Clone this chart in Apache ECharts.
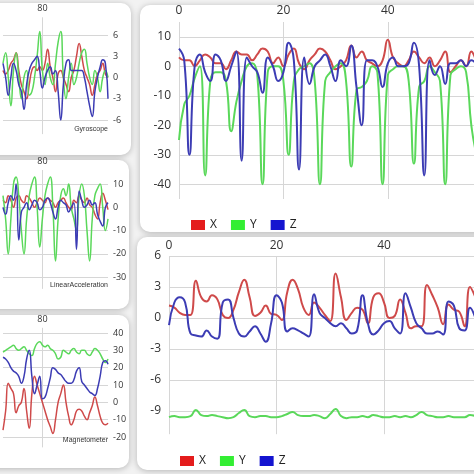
<!DOCTYPE html>
<html>
<head>
<meta charset="utf-8">
<script src="https://cdn.jsdelivr.net/npm/echarts@6/dist/echarts.min.js"></script>
<style>html,body{margin:0;padding:0;background:#f2f2f2;}#chart{width:474px;height:474px;}</style>
</head>
<body>
<div id="chart"></div>
<script>
// small panels on the left start at sample 65, big ones on the right at 0
var gyroX = [1,0.5,1,2,2.5,3.5,1,-1,-2,-3,-1,1,1.5,1,1.5,1,2,4,1.5,0,-2,0.5,1,0,-1,-2,0,1,3,4.8,3,1,0,-1,-2.5,-1,0.5,1,2,0.5,0];
var gyroY = [2,3.5,0,-4,1,3.5,0,-3,0,1,-2.5,-2,0,3,6.5,1,-1,2,0,-1,2,5,6.5,0,-3,0,2,-1,0,2,3.5,4,2,0,-1,1,0,-2,0,1,0];
var gyroZ = [2,0,-2.5,0,2,1,-1,-2,-4.5,-1,1,2,2.5,3,1,-1.5,0,1,1.5,0.5,1,-2,-6,-1,2,2.5,1,1,1,1,1,0,-2,-4,-5.5,-2,0,1.5,2.5,2,-3];
var linX = [3,2,5,3,0,4,5,3,2,5,4,2,0,2,4,3,2,4,3,2,0,2,3,4,2,0,-1,3,2,5,3,2,4,1,0,-3,-5,2,6,3,-1];
var linY = [5,-5,-20,-5,10,13,5,-10,-20,-5,5,10,13,0,-17,-5,5,10,13,0,-23,-5,5,8,5,10,0,-5,-10,5,10,5,-10,-23,-5,5,8,10,0,-10,-5];
var linZ = [0,-3,2,5,3,10,-14,-2,0,2,-1,1,3,2,-1,0,3,4,2,-2,-5,0,3,2,1,-2,0,2,-18,7,3,0,1,3,1,2,-3,-6,-8,0,2];
var magX = [-16,-5,11,8,5,-6,-2,0,8,-5,-15,5,15,10,5,0,-5,-10,-14,-18,-10,0,5,10,0,-8,-13,-10,-5,-4,-5,-8,-10,-6,-2,3,-2,-8,-12,-13,-12];
var magY = [29,30,31,32,33,31,30,31,32,30,28,27,31,34,35,33,32,33,31,30,28,25,26,30,29,28,30,31,29,28,30,30,28,27,29,31,30,28,25,23,25];
var magZ = [26,25,23,20,18,17,15,11,15,25,30,15,5,10,15,2,3,8,14,20,19,17,16,14,12,11,11,13,18,20,12,10,8,6,5,4,8,15,23,24,22];

var accX = [3,2,2,0,2,4,3,1,1,-1,2,5,4,4,2,4,6,5,1,3,0,4,6,1,-1,2,4,6,5,2,-1,0,2,7,3,5,2,1,0,2,9,3,1,0,2,5,3,1,3,0,2,5,-2,0,2,0,5,2,0];
var accY = [-25,-13,-10,-4,0,-37,-5,-2,-2,-5,-22,-12,-5,0,1,-3,-40,-2,0,0,-5,-30,-5,-1,0,1,-5,-40,-5,-2,0,1,-5,-34,-8,-7,-5,0,-2,-40,-3,-1,0,0,-5,-33,-7,-5,0,-2,-5,-40,-3,-1,0,-2,-20,-30,-35];
var accZ = [6,2,-30,0,4,-2,-5,4,2,-5,0,5,-32,3,0,-2,-9,3,0,-5,-2,8,2,-35,3,-6,0,2,4,0,-5,2,0,7,-7,-20,2,2,0,-7,1,3,0,0,1,8,0,-37,2,-3,0,-6,1,1,2,0,2,1,0];
var gravX = [1.2,1,0.5,0.3,0.3,3.6,2,1.6,2.2,1.8,0.3,0,0.8,2.5,3.7,2,0.2,0.5,1.2,0.4,0.3,-0.2,2.5,3.7,2.8,1,0.3,1.5,1,0.3,-0.3,4.3,2,-0.2,0.5,1,0.8,-0.5,2,2.4,1.5,0,0.2,1.8,0.5,-1,-0.8,-0.8,3.2,2.2,1,-0.6,1.3,0.8,0.6,-0.8,3,2];
var gravY = [-9.6,-9.5,-9.6,-9.6,-9.5,-8.9,-9.4,-9.5,-9.4,-9.5,-9.6,-9.7,-9.6,-9.2,-8.9,-9.5,-9.6,-9.5,-9.5,-9.6,-9.6,-9.5,-9.3,-9.1,-9.4,-9.5,-9.5,-9.4,-9.5,-9.7,-9.3,-8.8,-9.5,-9.7,-9.6,-9.6,-9.5,-9.6,-9.4,-9.5,-9.6,-9.6,-9.5,-9.6,-9.5,-9.6,-9.4,-9.1,-9.4,-9.5,-9.6,-9.6,-9.5,-9.6,-9.6,-9.6,-9.4,-9.5];
var gravZ = [-0.7,1.5,2,1.5,-1.5,-1.7,-1.8,-1.2,-1.8,-2,1.5,1.8,0,-1.5,-1.8,-1.3,-0.8,-1.5,-2.3,-0.5,2.2,1.5,-1.3,-1,-1.2,-1.5,-1.8,2.3,0.5,0,-0.5,-0.8,-0.5,-1,-1.5,-1.2,2.2,-0.5,-1.6,-1.2,-0.5,-0.3,-1,-1.5,2.4,1,-0.5,-1,-1.5,-1.5,-1.3,-1.6,1.6,1.2,-1,-1.2,1,0];

var smallXTicks = [80];
var gyroTicks = [6,3,0,-3,-6];
var linTicks = [10,0,-10,-20,-30];
var magTicks = [40,30,20,10,0,-10,-20];
var bigXTicks = [0,20,40];
var accTicks = [10,0,-10,-20,-30,-40];
var gravTicks = [6,3,0,-3,-6,-9];

var lineColors = ['#cf4a4a', '#5ad85a', '#3c3cb4'];
var boxColors = ['#e41c1c', '#33ee33', '#1414d0'];

var chart = echarts.init(document.getElementById('chart'));

var grids = [], xAxes = [], yAxes = [], series = [], graphics = [];

function pairs(arr, start) {
    return arr.map(function (v, i) { return [start + i, v]; });
}

function has(list, v) {
    return list.some(function (t) { return Math.abs(t - v) < 1e-6; });
}

// p: grid box, axis ranges, ticks, data
function addPanel(p) {
    var idx = grids.length;
    grids.push({ left: p.left, top: p.top, width: p.width, height: p.height, containLabel: false });
    xAxes.push({
        type: 'value', gridIndex: idx, position: 'top', min: p.xMin, max: p.xMax, interval: p.xStep,
        axisLine: { show: false }, axisTick: { show: false }, splitLine: { show: false },
        axisLabel: {
            color: '#333', fontSize: p.font, margin: p.xMargin, showMaxLabel: false,
            formatter: function (v) { return has(p.xTicks, v) ? String(v) : ''; }
        }
    });
    yAxes.push({
        type: 'value', gridIndex: idx, position: p.yPos, min: p.yMin, max: p.yMax, interval: p.yStep,
        axisLine: { show: false }, axisTick: { show: false }, splitLine: { show: false },
        axisLabel: {
            color: '#333', fontSize: p.font, margin: p.yMargin,
            formatter: function (v) { return has(p.yTicks, v) ? String(v) : ''; }
        }
    });
    var lines = p.yTicks.map(function (v) { return { yAxis: v }; })
        .concat(p.xTicks.map(function (v) { return { xAxis: v }; }));
    var names = ['X', 'Y', 'Z'];
    p.data.forEach(function (arr, k) {
        var s = {
            name: names[k], type: 'line', xAxisIndex: idx, yAxisIndex: idx,
            data: pairs(arr, p.start), smooth: 0.5, showSymbol: false, clip: true,
            lineStyle: { width: p.lw, color: lineColors[k] }, itemStyle: { color: lineColors[k] },
            z: 3 + k
        };
        if (k === 0) {
            s.markLine = {
                silent: true, symbol: 'none', label: { show: false }, animation: false,
                lineStyle: { color: '#d6d6d6', type: 'solid', width: 1 }, z: 1,
                data: lines
            };
        }
        series.push(s);
    });
}

function card(x, y, w, h) {
    graphics.push({
        type: 'rect', shape: { x: x, y: y, width: w, height: h, r: 10 }, z: -10, silent: true,
        style: { fill: '#fff', shadowBlur: 6, shadowColor: 'rgba(0,0,0,0.25)', shadowOffsetY: 1 }
    });
}

card(-20, 3, 151, 152);
card(-20, 160, 149, 149);
card(-20, 315, 149, 153);
card(140, 5, 350, 227);
card(137, 237, 350, 233);

// left column
addPanel({ left: 0, top: 35 - 2.5 * 7.08, width: 108, height: 16.5 * 7.08, xMin: 65, xMax: 105, xStep: 5,
    yMin: -8, yMax: 8.5, yStep: 0.5, xTicks: smallXTicks, yTicks: gyroTicks, yPos: 'right',
    font: 9, xMargin: 4, yMargin: 5, lw: 1.5, start: 65, data: [gyroX, gyroY, gyroZ] });
addPanel({ left: 0, top: 184 - 6 * 2.33, width: 108, height: 51 * 2.33, xMin: 65, xMax: 105, xStep: 5,
    yMin: -35, yMax: 16, yStep: 1, xTicks: smallXTicks, yTicks: linTicks, yPos: 'right',
    font: 9, xMargin: 4, yMargin: 5, lw: 1.5, start: 65, data: [linX, linY, linZ] });
addPanel({ left: 0, top: 333 - 3 * 1.733, width: 108, height: 69 * 1.733, xMin: 65, xMax: 105, xStep: 5,
    yMin: -26, yMax: 43, yStep: 1, xTicks: smallXTicks, yTicks: magTicks, yPos: 'right',
    font: 9, xMargin: 4, yMargin: 5, lw: 1.5, start: 65, data: [magX, magY, magZ] });

// right column (runs past the window's right edge)
addPanel({ left: 179, top: 22, width: 295, height: 60 * 2.95, xMin: 0, xMax: 295 / 5.22, xStep: 20,
    yMin: -45, yMax: 15, yStep: 5, xTicks: bigXTicks, yTicks: accTicks, yPos: 'left',
    font: 12, xMargin: 5, yMargin: 8, lw: 2, start: 0, data: [accX, accY, accZ] });
addPanel({ left: 169, top: 256, width: 305, height: 17.25 * 10.33, xMin: 0, xMax: 305 / 5.375, xStep: 20,
    yMin: -11.25, yMax: 6, yStep: 0.75, xTicks: bigXTicks, yTicks: gravTicks, yPos: 'left',
    font: 12, xMargin: 4, yMargin: 8, lw: 2, start: 0, data: [gravX, gravY, gravZ] });

[['Gyroscope', 131], ['LinearAcceleration', 287], ['Magnetometer', 442]].forEach(function (t) {
    graphics.push({ type: 'text', right: 474 - 108, top: t[1] - 5, z: 10, silent: true,
        style: { text: t[0], fill: '#333', font: '7px sans-serif', textAlign: 'right' } });
});

function legendFor(left, top) {
    return {
        left: left, top: top, icon: 'rect', itemWidth: 14, itemHeight: 10, itemGap: 14,
        textStyle: { color: '#222', fontSize: 12 },
        data: ['X', 'Y', 'Z'].map(function (n, i) { return { name: n, itemStyle: { color: boxColors[i] } }; })
    };
}

chart.setOption({
    animation: false,
    backgroundColor: '#f2f2f2',
    textStyle: { fontFamily: 'Open Sans, sans-serif' },
    grid: grids,
    xAxis: xAxes,
    yAxis: yAxes,
    legend: [legendFor(186, 214), legendFor(175, 450)],
    graphic: graphics,
    series: series
});
</script>
</body>
</html>
